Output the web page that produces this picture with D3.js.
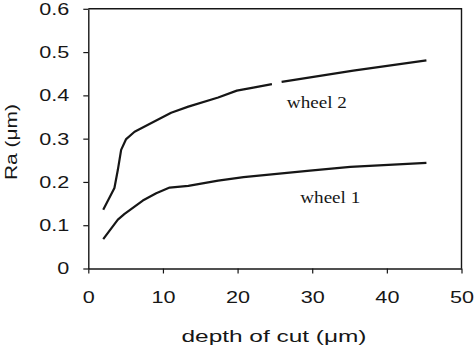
<!DOCTYPE html>
<html><head><meta charset="utf-8">
<script src="https://cdn.jsdelivr.net/npm/d3@7"></script>
<style>html,body{margin:0;padding:0;background:#fff;}svg{display:block;}</style>
</head><body>
<svg id="c" width="474" height="348"></svg>
<script>
const xTicks = [0, 10, 20, 30, 40, 50];
const yTicks = [0, 0.1, 0.2, 0.3, 0.4, 0.5, 0.6];
const wheel1X = [2, 3.96, 4.86, 7.3, 9.1, 10.9, 13.4, 17.4, 20.8, 29.7, 35.1, 45.3];
const wheel1Y = [0.068, 0.113, 0.126, 0.157, 0.174, 0.187, 0.191, 0.203, 0.211, 0.226, 0.235, 0.244];
const wheel2X = [2, 3.5, 3.96, 4.4, 5.07, 6.2, 8, 11.1, 13.4, 17.4, 19.9, 22.1, 24.6, null, 25.9, 35.5, 45.3];
const wheel2Y = [0.136, 0.186, 0.228, 0.274, 0.299, 0.316, 0.332, 0.36, 0.374, 0.395, 0.411, 0.418, 0.426, null, 0.431, 0.457, 0.481];
const seriesLabels = ["wheel 1", "wheel 2"];
const labelPos = [[28.4, 0.151], [26.6, 0.370]];

const svg = d3.select("#c");
const x = d3.scaleLinear().domain([0, 50]).range([88.3, 461.5]);
const y = d3.scaleLinear().domain([0, 0.6]).range([268.5, 8.8]);
const ink = "#161616";

// frame
svg.append("path")
  .attr("d", `M${x(0)},${y(0.6)}H${x(50)}V${y(0)}`)
  .attr("fill", "none").attr("stroke", ink).attr("stroke-width", 1.4);

const stretch = (sel, f) => sel.each(function(){
  const L = this.getComputedTextLength();
  d3.select(this).attr("textLength", L * f).attr("lengthAdjust", "spacingAndGlyphs");
});

const xAxis = svg.append("g").attr("transform", `translate(0,${y(0)})`)
  .call(d3.axisBottom(x).tickValues(xTicks).tickFormat(d3.format("d")).tickSize(5).tickSizeOuter(0));
const yAxis = svg.append("g").attr("transform", `translate(${x(0)},0)`)
  .call(d3.axisLeft(y).tickValues(yTicks).tickFormat(d => d === 0 ? "0" : d3.format(".1f")(d)).tickSize(5).tickSizeOuter(0));

[xAxis, yAxis].forEach(g => {
  g.select(".domain").attr("stroke", ink).attr("stroke-width", 1.4);
  g.selectAll(".tick line").attr("stroke", ink).attr("stroke-width", 1.2);
  g.selectAll("text").attr("fill", ink).style("font-family", "Arial, 'Liberation Sans', sans-serif").style("font-size", "16px");
});
xAxis.selectAll("text").attr("y", 34.5).attr("dy", 0);
yAxis.selectAll("text").attr("x", -19).attr("dy", "0.34em");
stretch(xAxis.selectAll("text"), 1.35);
stretch(yAxis.selectAll("text"), 1.35);

const line = d3.line().defined(d => d[0] !== null).x(d => x(d[0])).y(d => y(d[1]));
const s1 = wheel1X.map((v, i) => [v, wheel1Y[i]]);
const s2 = wheel2X.map((v, i) => [v, wheel2Y[i]]);
[s1, s2].forEach(s => svg.append("path").datum(s).attr("d", line)
  .attr("fill", "none").attr("stroke", ink).attr("stroke-width", 2.2).attr("stroke-linejoin", "round"));

const lbl = svg.selectAll("text.sl").data(seriesLabels).enter().append("text").attr("class", "sl")
  .attr("x", (d, i) => x(labelPos[i][0])).attr("y", (d, i) => y(labelPos[i][1]))
  .attr("fill", ink).style("font-family", "'Times New Roman', 'Liberation Serif', serif").style("font-size", "16px")
  .text(d => d);
lbl.attr("textLength", 60).attr("lengthAdjust", "spacingAndGlyphs");

svg.append("text").attr("x", 274).attr("y", 342).attr("text-anchor", "middle")
  .attr("fill", ink).style("font-family", "Arial, 'Liberation Sans', sans-serif").style("font-size", "16px")
  .attr("textLength", 185).attr("lengthAdjust", "spacingAndGlyphs")
  .text("depth of cut (μm)");

svg.append("text").attr("transform", "translate(16.5,142) rotate(-90)").attr("text-anchor", "middle")
  .attr("fill", ink).style("font-family", "Arial, 'Liberation Sans', sans-serif").style("font-size", "16px")
  .attr("textLength", 76).attr("lengthAdjust", "spacingAndGlyphs")
  .text("Ra (μm)");
</script>
</body></html>
